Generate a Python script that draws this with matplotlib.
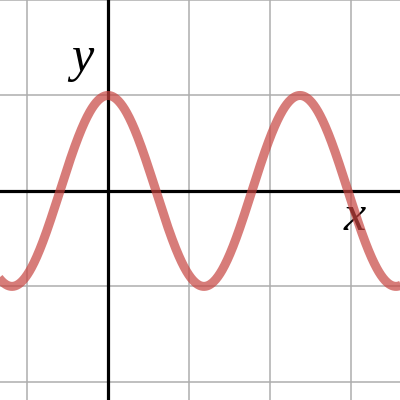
import numpy as np
import matplotlib
matplotlib.use("Agg")
import matplotlib.pyplot as plt

# curve: y = amplitude * cos(2*pi*x / period)
amplitude = 1.0
period = 2.37

# view window and grid, in graph units
x_range = [-1.333, 3.605]
y_range = [-2.19, 2.0]
x_grid = [-1, 1, 2, 3]
y_grid = [-2, -1, 1, 2]

x = np.linspace(x_range[0] - 0.1, x_range[1] + 0.1, 800)
y = amplitude * np.cos(2 * np.pi * x / period)

fig = plt.figure(figsize=(4, 4), dpi=100)
ax = fig.add_axes([0, 0, 1, 1])
ax.set_xlim(x_range)
ax.set_ylim(y_range)
ax.axis("off")

for gx in x_grid:
    ax.axvline(gx, color="#adadad", lw=1.1, zorder=1)
for gy in y_grid:
    ax.axhline(gy, color="#adadad", lw=1.1, zorder=1)

ax.axhline(0, color="black", lw=2.3, zorder=2)
ax.axvline(0, color="black", lw=2.3, zorder=2)

ax.text(3.05, -0.28, "x", family="Liberation Serif", style="italic",
        fontsize=36, ha="center", va="center", zorder=3)
ax.text(-0.32, 1.38, "y", family="Liberation Serif", style="italic",
        fontsize=36, ha="center", va="center", zorder=3)

ax.plot(x, y, color="#c74440", alpha=0.7, lw=6.5, solid_capstyle="butt", zorder=4)

fig.savefig("out.png", dpi=100)
plt.close(fig)
